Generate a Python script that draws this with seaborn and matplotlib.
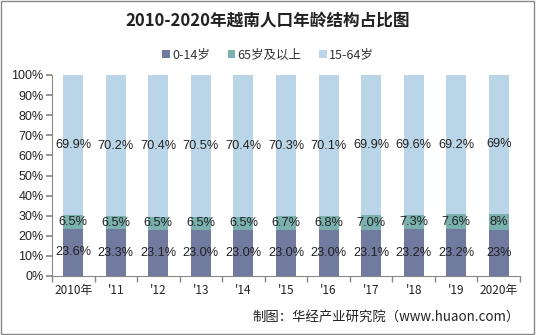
import matplotlib
matplotlib.use("Agg")
import matplotlib.pyplot as plt
import seaborn as sns
import numpy as np
from matplotlib.patches import Rectangle

sns.set_theme(style="white")
plt.rcParams['font.family'] = ['Noto Sans CJK SC', 'DejaVu Sans']

years = ["2010年", "'11", "'12", "'13", "'14", "'15", "'16", "'17", "'18", "'19", "2020年"]
young = [23.6, 23.3, 23.1, 23.0, 23.0, 23.0, 23.0, 23.1, 23.2, 23.2, 23]
old = [6.5, 6.5, 6.5, 6.5, 6.5, 6.7, 6.8, 7.0, 7.3, 7.6, 8]
working = [69.9, 70.2, 70.4, 70.5, 70.4, 70.3, 70.1, 69.9, 69.6, 69.2, 69]
young_lbl = ["23.6%", "23.3%", "23.1%", "23.0%", "23.0%", "23.0%", "23.0%", "23.1%", "23.2%", "23.2%", "23%"]
old_lbl = ["6.5%", "6.5%", "6.5%", "6.5%", "6.5%", "6.7%", "6.8%", "7.0%", "7.3%", "7.6%", "8%"]
work_lbl = ["69.9%", "70.2%", "70.4%", "70.5%", "70.4%", "70.3%", "70.1%", "69.9%", "69.6%", "69.2%", "69%"]
series_names = ["0-14岁", "65岁及以上", "15-64岁"]
colors = ["#717BA0", "#7AB0AE", "#B9D5E7"]

fig = plt.figure(figsize=(5.36, 3.35), dpi=100)
ax = fig.add_axes([52/536, 1-276/335, (520-52)/536, (276-75)/335])

y = np.array(young, float)
o = np.array(old, float)
w = np.array(working, float)
bottoms = [np.zeros_like(y), y, y + o]
vals = [y, o, w]
labels = [young_lbl, old_lbl, work_lbl]
for v, b, c, n in zip(vals, bottoms, colors, series_names):
    sns.barplot(x=years, y=v, bottom=b, color=c, width=0.47, ax=ax, label=n,
                saturation=1, linewidth=0)

handles, lbls = ax.get_legend_handles_labels()
if ax.get_legend() is not None:
    ax.get_legend().remove()

for v, b, lbls_ in zip(vals, bottoms, labels):
    for i, (vv, bb, t) in enumerate(zip(v, b, lbls_)):
        ax.text(i, bb + vv / 2, t, ha='center', va='center', fontsize=9.2,
                color='#222222', family=['Liberation Sans', 'DejaVu Sans'])

ax.set_ylim(0, 100)
ax.set_xlim(-0.5, len(years) - 0.5)
ax.set_yticks(np.arange(0, 101, 10))
ax.set_yticklabels([f"{t}%" for t in range(0, 101, 10)], fontsize=9,
                   family=['Liberation Sans', 'DejaVu Sans'], color='#222222')
ax.set_xticks(range(len(years)))
ax.set_xticklabels(years, fontsize=8.5, color='#222222')
ax.set_xticks(np.arange(-0.5, len(years), 1), minor=True)
ax.tick_params(axis='x', which='major', length=0, pad=6)
ax.tick_params(axis='x', which='minor', length=4, direction='out', color='#888888', bottom=True)
ax.tick_params(axis='y', length=4, direction='out', color='#888888', left=True, pad=2)
for s in ['top', 'right']:
    ax.spines[s].set_visible(False)
for s in ['left', 'bottom']:
    ax.spines[s].set_color('#888888')
    ax.spines[s].set_linewidth(0.8)
ax.set_xlabel("")
ax.set_ylabel("")

leg = fig.legend(handles[:3], lbls[:3], loc='center', bbox_to_anchor=(0.5, 1 - 55/335),
                 ncol=3, frameon=False, fontsize=9, handlelength=0.6, handleheight=0.6,
                 handletextpad=0.2, columnspacing=1.4)
for t in leg.get_texts():
    t.set_color('#333333')

fig.text(0.5, 1 - 21/335, "2010-2020年越南人口年龄结构占比图", ha='center', va='center',
         fontsize=12, fontweight='bold', color='#222222')
fig.text(520/536, 1 - 318/335, "制图：华经产业研究院（www.huaon.com）", ha='right', va='center',
         fontsize=9.6, color='#222222')

fig.patches.append(Rectangle((0.002, 0.003), 0.995, 0.994, transform=fig.transFigure,
                             fill=False, edgecolor='#888888', linewidth=1))

fig.savefig("out.png", dpi=100)
